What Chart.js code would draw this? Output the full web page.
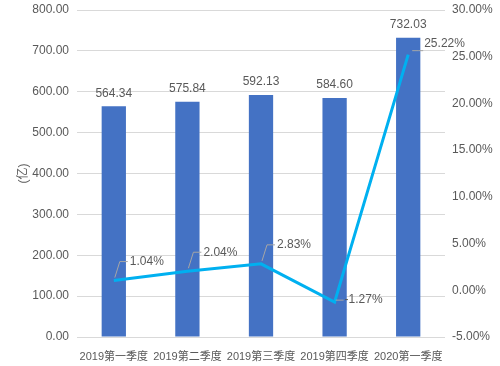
<!DOCTYPE html>
<html>
<head>
<meta charset="utf-8">
<script src="https://cdn.jsdelivr.net/npm/chart.js@4/dist/chart.umd.min.js"></script>
<style>
  html, body { margin: 0; padding: 0; background: #fff; }
  #wrap { width: 500px; height: 366px; }
</style>
</head>
<body>
<div id="wrap"><canvas id="chart" width="500" height="366"></canvas></div>
<script>
// Datos
const categorias = ["2019第一季度", "2019第二季度", "2019第三季度", "2019第四季度", "2020第一季度"];
const montos = [564.34, 575.84, 592.13, 584.60, 732.03];
const crecimiento = [1.04, 2.04, 2.83, -1.27, 25.22];

const fuente = '"Liberation Sans", "Noto Sans CJK SC", sans-serif';
const gris = "#595959";

// Etiquetas: valores encima de las barras y porcentajes con linea guia
const etiquetas = {
  id: "etiquetas",
  afterDatasetsDraw(chart) {
    const ctx = chart.ctx;
    ctx.save();
    ctx.font = "12px " + fuente;
    ctx.fillStyle = gris;
    ctx.textBaseline = "middle";

    const barras = chart.getDatasetMeta(0).data;
    ctx.textAlign = "center";
    barras.forEach((b, i) => {
      ctx.fillText(montos[i].toFixed(2), b.x, b.y - 13);
    });

    const puntos = chart.getDatasetMeta(1).data;
    ctx.textAlign = "left";
    ctx.strokeStyle = "#a6a6a6";
    ctx.lineWidth = 1;
    puntos.forEach((p, i) => {
      let tx, ty;
      ctx.beginPath();
      if (i === 3) {
        tx = p.x + 10; ty = p.y - 2;
        ctx.moveTo(p.x + 1, ty);
        ctx.lineTo(tx - 1, ty);
      } else if (i === 4) {
        tx = p.x + 16; ty = p.y - 11;
        ctx.moveTo(p.x + 4, p.y - 4);
        ctx.lineTo(p.x + 10, ty + 7);
        ctx.lineTo(tx - 1, ty + 7);
      } else {
        tx = p.x + 16; ty = p.y - 19;
        ctx.moveTo(p.x + 1, p.y - 3);
        ctx.lineTo(p.x + 6, ty);
        ctx.lineTo(tx - 2, ty);
      }
      ctx.stroke();
      ctx.fillText(crecimiento[i].toFixed(2) + "%", tx, ty);
    });
    ctx.restore();
  }
};

new Chart(document.getElementById("chart").getContext("2d"), {
  data: {
    labels: categorias,
    datasets: [
      {
        type: "bar",
        label: "金额",
        data: montos,
        backgroundColor: "#4472c4",
        barPercentage: 0.33,
        categoryPercentage: 1,
        yAxisID: "y",
        order: 2
      },
      {
        type: "line",
        label: "增长率",
        data: crecimiento,
        borderColor: "#00b0f0",
        backgroundColor: "#00b0f0",
        borderWidth: 3,
        pointRadius: 0,
        tension: 0,
        yAxisID: "y1",
        order: 1
      }
    ]
  },
  options: {
    responsive: false,
    animation: false,
    devicePixelRatio: 1,
    layout: { padding: { top: 10, right: 0, left: 0, bottom: 0 } },
    plugins: {
      legend: { display: false },
      tooltip: { enabled: false }
    },
    scales: {
      x: {
        grid: { display: false },
        border: { display: false },
        ticks: { color: gris, font: { size: 11, family: fuente }, padding: 5, maxRotation: 0, autoSkip: false },
        afterFit: s => { s.height = 29; s.paddingLeft = 0; s.paddingRight = 0; }
      },
      y: {
        position: "left",
        min: 0,
        max: 800,
        ticks: {
          stepSize: 100,
          color: gris,
          padding: 8,
          font: { size: 12, family: fuente },
          callback: v => v.toFixed(2)
        },
        grid: { color: "#d9d9d9", drawTicks: false },
        border: { display: false },
        title: { display: true, text: "(亿)", color: gris, font: { size: 12, family: fuente }, padding: { top: 16 } },
        afterFit: s => { s.width = 77; s.paddingTop = 0; s.paddingBottom = 0; }
      },
      y1: {
        position: "right",
        min: -5,
        max: 30,
        ticks: {
          stepSize: 5,
          color: gris,
          padding: 7,
          font: { size: 12, family: fuente },
          callback: v => v.toFixed(2) + "%"
        },
        grid: { display: false, drawTicks: false },
        border: { display: false },
        afterFit: s => { s.width = 55; s.paddingTop = 0; s.paddingBottom = 0; }
      }
    }
  },
  plugins: [etiquetas]
});
</script>
</body>
</html>
